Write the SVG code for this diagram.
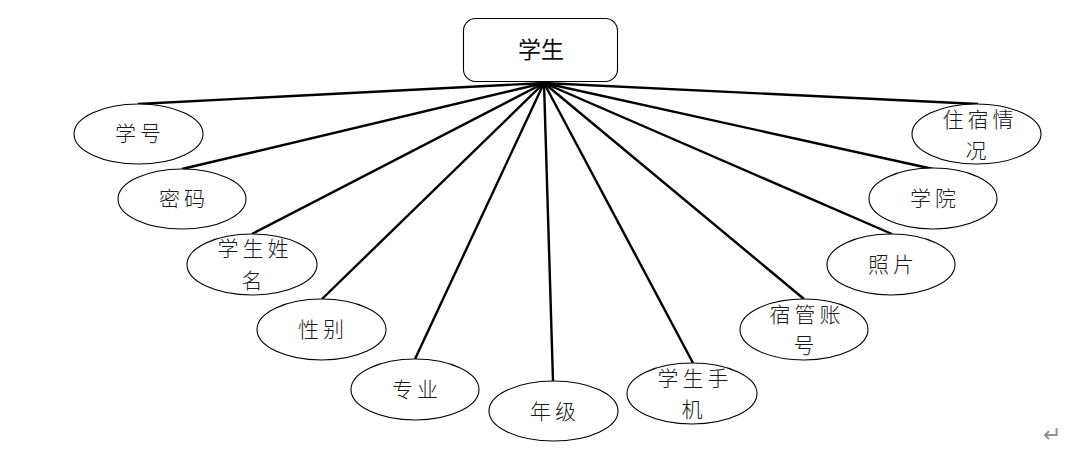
<svg xmlns="http://www.w3.org/2000/svg" width="1086" height="452" viewBox="0 0 1086 452">
<style>
.attr ellipse{fill:#fff;stroke:#000;stroke-width:1.1}
.attr text{font-family:"Noto Sans CJK SC","Noto Sans CJK JP",sans-serif;font-size:21px;fill:#1a1a1a;text-anchor:middle;letter-spacing:4px;font-weight:300}
#conn line{stroke:#000;stroke-width:2.4}
</style>
<rect width="1086" height="452" fill="#fff"/>
<g id="conn">
<line x1="544" y1="83" x2="138" y2="104"/>
<line x1="544" y1="83" x2="182" y2="169"/>
<line x1="544" y1="83" x2="252" y2="234"/>
<line x1="544" y1="83" x2="322" y2="299"/>
<line x1="544" y1="83" x2="415" y2="359"/>
<line x1="544" y1="83" x2="553" y2="381"/>
<line x1="544" y1="83" x2="693" y2="363"/>
<line x1="544" y1="83" x2="804" y2="299"/>
<line x1="544" y1="83" x2="892" y2="234"/>
<line x1="544" y1="83" x2="933" y2="169"/>
<line x1="544" y1="83" x2="978" y2="104"/>
</g>
<g id="student">
<rect x="463.5" y="18.5" width="154" height="63" rx="12" fill="#fff" stroke="#000" stroke-width="1.1"/>
<text x="541" y="58" font-family="'Noto Sans CJK SC',sans-serif" font-size="23" text-anchor="middle" fill="#111" font-weight="400">学生</text>
</g>
<g id="xuehao" class="attr"><ellipse cx="138.5" cy="134" rx="64.5" ry="30"/><text x="140" y="141">学号</text></g>
<g id="mima" class="attr"><ellipse cx="182" cy="199" rx="64" ry="30"/><text x="184" y="206">密码</text></g>
<g id="xingming" class="attr"><ellipse cx="252" cy="264.5" rx="65" ry="30.5"/><text x="255" y="256">学生姓</text><text x="254" y="288">名</text></g>
<g id="xingbie" class="attr"><ellipse cx="321.5" cy="329.5" rx="64.5" ry="30.5"/><text x="323" y="337">性别</text></g>
<g id="zhuanye" class="attr"><ellipse cx="415" cy="389.5" rx="64" ry="30.5"/><text x="417" y="397">专业</text></g>
<g id="nianji" class="attr"><ellipse cx="553.5" cy="411" rx="64.5" ry="30"/><text x="555" y="419">年级</text></g>
<g id="shouji" class="attr"><ellipse cx="692" cy="393.5" rx="65" ry="30.5"/><text x="695" y="386">学生手</text><text x="694" y="417">机</text></g>
<g id="suguan" class="attr"><ellipse cx="804" cy="329.5" rx="64" ry="30.5"/><text x="807" y="322">宿管账</text><text x="806" y="353">号</text></g>
<g id="zhaopian" class="attr"><ellipse cx="891" cy="264.5" rx="64" ry="30.5"/><text x="893" y="272">照片</text></g>
<g id="xueyuan" class="attr"><ellipse cx="933" cy="198.5" rx="64" ry="30.5"/><text x="935" y="206">学院</text></g>
<g id="zhusu" class="attr"><ellipse cx="976.5" cy="134" rx="64.5" ry="30"/><text x="980" y="127">住宿情</text><text x="978" y="158">况</text></g>
<text x="1052" y="442" font-family="'DejaVu Sans',sans-serif" font-size="22" fill="#8a8a8a" text-anchor="middle">↵</text>
</svg>
